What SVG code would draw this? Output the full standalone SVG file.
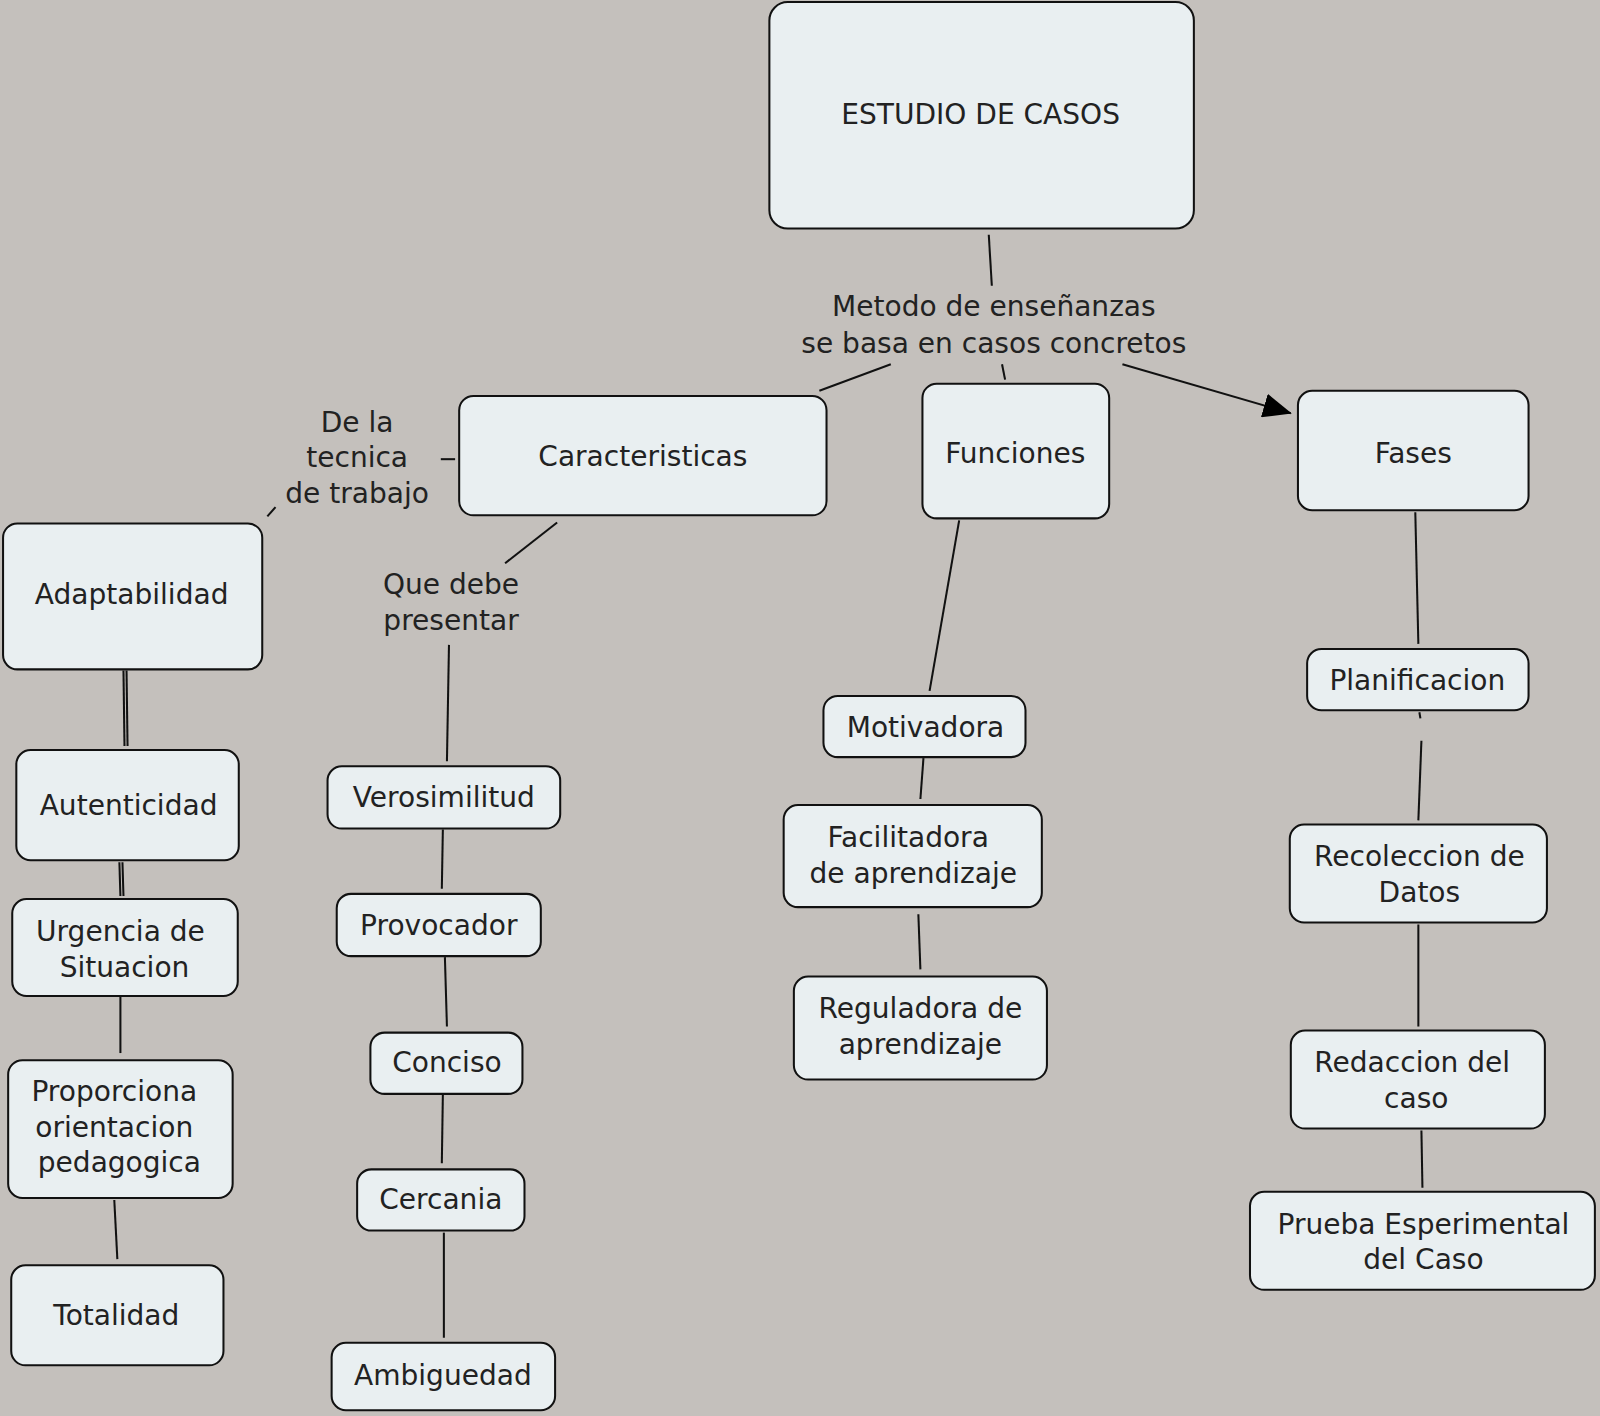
<svg xmlns="http://www.w3.org/2000/svg" width="1600" height="1416" viewBox="0 0 1600 1416">
<style>
.n rect{fill:#e9eff1;stroke:#111;stroke-width:2}
text{font-family:"DejaVu Sans",Verdana,sans-serif;font-size:27.5px;fill:#222;text-anchor:middle}
.c line{stroke:#111;stroke-width:2}
</style>
<defs>
<marker id="a2" markerWidth="28" markerHeight="24" refX="27" refY="12" orient="auto" markerUnits="userSpaceOnUse"><path d="M0,0 L28,12 L0,24z" fill="#000"/></marker></defs>
<rect width="1600" height="1416" fill="#c4c0bc"/>
<g transform="scale(1.0204)">
<g class="c">
<line x1="969" y1="230" x2="972" y2="280"/>
<line x1="873" y1="357" x2="803" y2="383"/>
<line x1="982" y1="357" x2="985" y2="372"/>
<line x1="1100" y1="357" x2="1265" y2="405" marker-end="url(#a2)"/>
<line x1="446" y1="450" x2="432" y2="450"/>
<line x1="270" y1="497" x2="262" y2="506"/>
<line x1="546" y1="512" x2="495" y2="552"/>
<line x1="440" y1="632" x2="438" y2="746"/>
<line x1="940" y1="510" x2="911" y2="677"/>
<line x1="1387" y1="502" x2="1390" y2="631"/>
<line x1="1391" y1="698" x2="1392" y2="704"/>
<line x1="1393" y1="726" x2="1390" y2="804"/>
<line x1="1390" y1="906" x2="1390" y2="1006"/>
<line x1="1393" y1="1108" x2="1394" y2="1164"/>
<line x1="905" y1="743" x2="902" y2="783"/>
<line x1="900" y1="896" x2="902" y2="950"/>
<line x1="434" y1="813" x2="433" y2="871"/>
<line x1="436" y1="938" x2="438" y2="1006"/>
<line x1="434" y1="1073" x2="433" y2="1140"/>
<line x1="435" y1="1208" x2="435" y2="1311"/>
<line x1="121" y1="657" x2="122" y2="731"/>
<line x1="124" y1="657" x2="125" y2="731"/>
<line x1="117" y1="845" x2="118" y2="878"/>
<line x1="120" y1="845" x2="121" y2="878"/>
<line x1="118" y1="977" x2="118" y2="1032"/>
<line x1="112" y1="1176" x2="115" y2="1234"/>
</g>
<g id="estudio" class="n"><rect x="754" y="2" width="416" height="222" rx="18"/><text x="961" y="122">ESTUDIO DE CASOS</text></g>
<g id="caracteristicas" class="n"><rect x="450" y="388" width="360" height="117" rx="14"/><text x="630" y="457">Caracteristicas</text></g>
<g id="funciones" class="n"><rect x="904" y="376" width="183" height="132" rx="14"/><text x="995" y="454">Funciones</text></g>
<g id="fases" class="n"><rect x="1272" y="383" width="226" height="117" rx="14"/><text x="1385" y="454">Fases</text></g>
<g id="adaptabilidad" class="n"><rect x="3" y="513" width="254" height="143" rx="14"/><text x="129" y="592">Adaptabilidad</text></g>
<g id="autenticidad" class="n"><rect x="16" y="735" width="218" height="108" rx="14"/><text x="126" y="799">Autenticidad</text></g>
<g id="urgencia" class="n"><rect x="12" y="881" width="221" height="95" rx="14"/><text x="118" y="922">Urgencia de</text><text x="122" y="957">Situacion</text></g>
<g id="proporciona" class="n"><rect x="8" y="1039" width="220" height="135" rx="14"/><text x="112" y="1079">Proporciona</text><text x="112" y="1114">orientacion</text><text x="117" y="1149">pedagogica</text></g>
<g id="totalidad" class="n"><rect x="11" y="1240" width="208" height="98" rx="14"/><text x="114" y="1299">Totalidad</text></g>
<g id="verosimilitud" class="n"><rect x="321" y="751" width="228" height="61" rx="14"/><text x="435" y="791">Verosimilitud</text></g>
<g id="provocador" class="n"><rect x="330" y="876" width="200" height="61" rx="14"/><text x="430" y="916">Provocador</text></g>
<g id="conciso" class="n"><rect x="363" y="1012" width="149" height="60" rx="14"/><text x="438" y="1051">Conciso</text></g>
<g id="cercania" class="n"><rect x="350" y="1146" width="164" height="60" rx="14"/><text x="432" y="1185">Cercania</text></g>
<g id="ambiguedad" class="n"><rect x="325" y="1316" width="219" height="66" rx="14"/><text x="434" y="1357">Ambiguedad</text></g>
<g id="motivadora" class="n"><rect x="807" y="682" width="198" height="60" rx="14"/><text x="907" y="722">Motivadora</text></g>
<g id="facilitadora" class="n"><rect x="768" y="789" width="253" height="100" rx="14"/><text x="890" y="830">Facilitadora</text><text x="895" y="865">de aprendizaje</text></g>
<g id="reguladora" class="n"><rect x="778" y="957" width="248" height="101" rx="14"/><text x="902" y="998">Reguladora de</text><text x="902" y="1033">aprendizaje</text></g>
<g id="planificacion" class="n"><rect x="1281" y="636" width="217" height="60" rx="14"/><text x="1389" y="676">Planificacion</text></g>
<g id="recoleccion" class="n"><rect x="1264" y="808" width="252" height="96" rx="14"/><text x="1391" y="849">Recoleccion de</text><text x="1391" y="884">Datos</text></g>
<g id="redaccion" class="n"><rect x="1265" y="1010" width="249" height="96" rx="14"/><text x="1384" y="1051">Redaccion del</text><text x="1388" y="1086">caso</text></g>
<g id="prueba" class="n"><rect x="1225" y="1168" width="338" height="96" rx="14"/><text x="1395" y="1209">Prueba Esperimental</text><text x="1395" y="1244">del Caso</text></g>
<g id="labels">
<text x="974" y="310">Metodo de enseñanzas</text><text x="974" y="346">se basa en casos concretos</text>
<text x="350" y="423">De la</text><text x="350" y="458">tecnica</text><text x="350" y="493">de trabajo</text>
<text x="442" y="582">Que debe</text><text x="442" y="617">presentar</text>
</g>
</g>
</svg>
